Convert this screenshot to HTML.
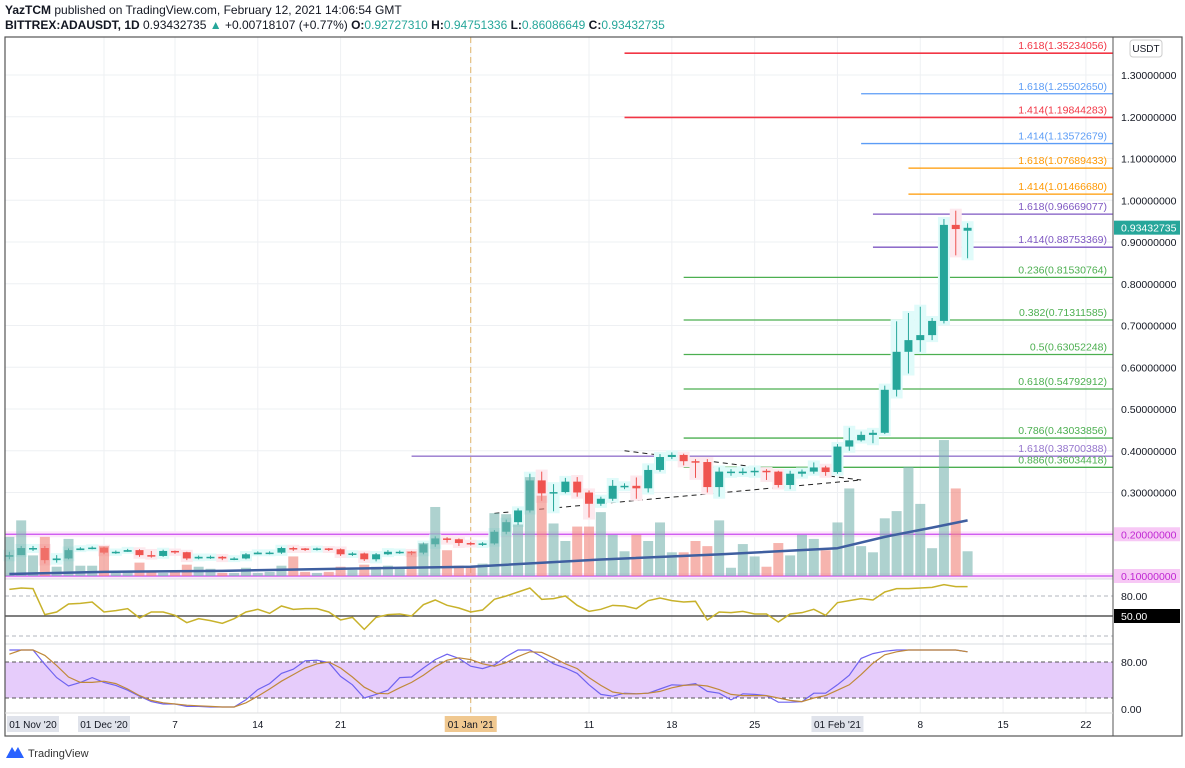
<!DOCTYPE html>
<html><head><meta charset="utf-8"><style>
html,body{margin:0;padding:0;background:#fff;width:1185px;height:768px;overflow:hidden}
svg{display:block;font-family:"Liberation Sans",sans-serif}
</style></head><body>
<svg id="c" width="1185" height="768" xmlns="http://www.w3.org/2000/svg">
<text x="5" y="14" font-size="12" fill="#131722"><tspan font-weight="bold">YazTCM</tspan> published on TradingView.com, February 12, 2021 14:06:54 GMT</text>
<text x="5" y="29" font-size="12" fill="#131722"><tspan font-weight="bold">BITTREX:ADAUSDT, 1D</tspan> 0.93432735 <tspan fill="#26a69a">▲</tspan> +0.00718107 (+0.77%) <tspan font-weight="bold">O:</tspan><tspan fill="#26a69a">0.92727310</tspan> <tspan font-weight="bold">H:</tspan><tspan fill="#26a69a">0.94751336</tspan> <tspan font-weight="bold">L:</tspan><tspan fill="#26a69a">0.86086649</tspan> <tspan font-weight="bold">C:</tspan><tspan fill="#26a69a">0.93432735</tspan></text>
<g id="grid"></g><g id="bands"></g><g id="fibs"></g><g id="candles"></g><g id="vols"></g><g id="ind"></g><g id="axes"></g>
<g><path d="M6 758 L12 747 L15 752 L18 747 L24 758 Z" fill="#2962ff"/><text x="28" y="757" font-size="11" fill="#333">TradingView</text></g>
</svg>
<script>
const days=[];for(let d=-8;d<=73;d++)days.push(d);
const opens=[.146,.150,.167,.167,.138,.142,.162,.166,.168,.156,.158,.162,.150,.148,.160,.157,.142,.146,.146,.142,.142,.152,.156,.156,.167,.166,.164,.166,.164,.152,.154,.140,.152,.158,.158,.156,.176,.190,.188,.179,.178,.178,.206,.229,.257,.329,.298,.301,.326,.300,.273,.285,.316,.316,.310,.354,.385,.390,.375,.373,.313,.350,.350,.350,.352,.350,.318,.345,.350,.360,.349,.410,.425,.438,.443,.546,.637,.665,.677,.711,.941,.927];
const closes=[.150,.167,.167,.138,.142,.162,.166,.168,.156,.158,.162,.150,.148,.160,.157,.142,.146,.146,.142,.142,.152,.156,.156,.167,.166,.164,.166,.164,.152,.154,.140,.152,.158,.158,.156,.176,.190,.188,.179,.178,.178,.206,.229,.257,.329,.298,.301,.326,.300,.273,.285,.316,.316,.310,.354,.385,.390,.375,.373,.313,.350,.350,.350,.352,.350,.318,.345,.350,.360,.349,.410,.425,.438,.443,.546,.637,.665,.677,.711,.941,.931,.934];
const highs=[.158,.172,.172,.172,.150,.166,.169,.171,.170,.161,.165,.164,.160,.163,.161,.158,.149,.149,.148,.145,.155,.159,.159,.170,.170,.167,.168,.167,.166,.157,.156,.155,.162,.161,.160,.180,.195,.193,.190,.182,.181,.210,.235,.262,.345,.350,.320,.335,.337,.305,.290,.330,.322,.336,.365,.392,.396,.393,.380,.380,.360,.356,.358,.360,.356,.352,.352,.355,.372,.364,.416,.455,.446,.450,.556,.710,.730,.745,.718,.955,.975,.945];
const lows=[.140,.150,.160,.130,.132,.140,.162,.164,.152,.153,.158,.146,.144,.146,.153,.138,.140,.141,.138,.138,.140,.152,.152,.153,.160,.160,.161,.160,.148,.148,.136,.135,.150,.153,.150,.152,.170,.180,.172,.173,.172,.175,.200,.222,.252,.280,.255,.298,.290,.240,.268,.280,.308,.285,.300,.350,.380,.365,.335,.300,.290,.340,.342,.340,.330,.312,.308,.338,.345,.340,.345,.400,.422,.418,.440,.530,.585,.637,.665,.705,.868,.861];
const volumes=[38,54,20,38,9,36,10,10,29,3,4,13,4,3,4,11,9,7,3,3,8,3,4,10,19,4,3,4,9,6,11,9,10,8,24,32,67,25,10,9,12,61,60,50,96,78,51,34,48,48,62,40,24,40,34,52,23,23,34,29,54,8,31,19,9,32,20,40,36,25,52,85,29,23,56,63,106,70,27,132,85,24];
const maDays=[-8,0,10,20,31,42,52,62,66,70,73];
const maVals=[2,4,5,7,9,16,21,27,38,47,54];
const rsi=[90,92,91,52,56,68,69,71,56,58,61,47,56,56,51,40,46,43,39,46,56,60,54,65,60,61,61,56,44,48,30,48,52,53,50,67,74,66,62,56,59,75,80,86,92,75,76,80,66,57,60,66,65,61,73,77,73,71,72,44,56,55,57,53,53,41,53,55,60,51,70,73,76,74,86,91,91,92,93,97,94,94];
const stochK=[100,100,100,76,54,40,46,54,46,41,33,23,14,10,10,6,6,5,5,5,17,34,44,61,68,82,83,79,56,42,20,26,33,54,55,70,84,93,86,73,69,75,89,100,100,89,77,70,61,42,26,23,28,27,28,35,42,41,44,31,28,17,27,26,24,13,13,14,28,28,42,58,86,94,98,100,100,100,100,100,100,97];
const stochD=[93,100,100,91,74,55,46,46,48,44,35,24,16,12,10,8,7,6,5,5,12,23,35,48,59,70,77,80,70,55,38,28,27,37,46,58,72,83,87,84,77,73,79,89,97,96,87,77,69,54,41,30,27,27,28,31,37,41,42,40,34,26,24,24,24,20,16,14,20,24,33,42,59,78,92,97,100,100,100,100,100,97];
const priceTicks=[1.3,1.2,1.1,1.0,0.9,0.8,0.7,0.6,0.5,0.4,0.3];
const fibLevels=[1.35234056,1.25502650,1.19844283,1.13572679,1.07689433,1.01466680,0.96669077,0.88753369,0.81530764,0.71311585,0.63052248,0.54792912,0.43033856,0.38700388,0.36034418];
const fibRatios=["1.618","1.618","1.414","1.414","1.618","1.414","1.618","1.414","0.236","0.382","0.5","0.618","0.786","1.618","0.886"];
const fibStartDays=[44,64,44,64,68,68,65,65,49,49,49,49,49,26,49];
const fibColors=["#f23645","#5b9cf6","#f23645","#5b9cf6","#ff9800","#ff9800","#7e57c2","#7e57c2","#4caf50","#4caf50","#4caf50","#4caf50","#4caf50","#9575cd","#4caf50"];
const timeLabels=["01 Dec '20","7","14","21","01 Jan '21","11","18","25","01 Feb '21","8","15","22"];
const timeDays=[0,6,13,20,31,41,48,55,62,69,76,83];

const NS="http://www.w3.org/2000/svg";
function el(tag,attrs,parent){const e=document.createElementNS(NS,tag);for(const k in attrs)e.setAttribute(k,attrs[k]);(parent||document.getElementById('c')).appendChild(e);return e;}
const xS=d=>104+d*11.83;
const yP=p=>75+(1.3-p)*417.5;
const yV=v=>576-v*1.03;
const yR=v=>616-(v-50)*0.667;
const yS=v=>710-v*0.6;
const AX=1113;
const G=id=>document.getElementById(id);

const grid=G('grid');
timeDays.forEach(d=>{const x=xS(d);if(x<AX){const l=el('line',{x1:x,y1:37,x2:x,y2:713,stroke:'#eef0f3','stroke-width':1},grid);}});
priceTicks.forEach(p=>{const l=el('line',{x1:5,y1:yP(p),x2:AX,y2:yP(p),stroke:'#eef0f3'},grid);});
const jan=el('line',{x1:xS(31),y1:37,x2:xS(31),y2:713,stroke:'#e0b46a','stroke-dasharray':'6,4','stroke-width':1},grid);


const bands=G('bands');
[0.2,0.1].forEach(p=>{el('rect',{x:5,y:yP(p)-3,width:AX-5,height:6,fill:'#fde7fb'},bands);const l=el('line',{x1:5,y1:yP(p),x2:AX,y2:yP(p),stroke:'#c94bf0','stroke-width':1.3},bands);});

const fibs=G('fibs');
fibLevels.forEach((p,i)=>{const y=yP(p);const l=el('line',{x1:xS(fibStartDays[i]),y1:y,x2:AX,y2:y,stroke:fibColors[i],'stroke-width':fibColors[i]==='#f23645'?1.6:1.3},fibs);

const t=el('text',{x:1107,y:y-4,'font-size':10.5,fill:fibColors[i],'text-anchor':'end'},fibs);t.textContent=fibRatios[i]+'('+p.toFixed(8)+')';
});
const tri1=el('line',{x1:xS(44),y1:yP(0.40),x2:xS(64),y2:yP(0.33),stroke:'#222','stroke-dasharray':'5,4'},fibs);

const tri2=el('line',{x1:xS(33),y1:yP(0.25),x2:xS(64),y2:yP(0.33),stroke:'#222','stroke-dasharray':'5,4'},fibs);


const cg=G('candles');
days.forEach((d,i)=>{const o=opens[i]??closes[i],c=closes[i],x=xS(d);const up=c>=o;const col=up?'#26a69a':'#ef5350';
el('rect',{x:x-6,y:yP(Math.max(o,c,highs[i]))-2,width:12,height:yP(lows[i])-yP(highs[i])+4,fill:up?'#e0fbfa':'#fde9ee'},cg);
const w=el('line',{x1:x,y1:yP(highs[i]),x2:x,y2:yP(lows[i]),stroke:col,'stroke-width':1},cg);
const top=yP(Math.max(o,c)),h=Math.max(1.5,yP(Math.min(o,c))-top);
const b=el('rect',{x:x-4,y:top,width:8,height:h,fill:col},cg);});

const vg=G('vols');
days.forEach((d,i)=>{const o=opens[i]??closes[i];const up=closes[i]>=o;const x=xS(d);
const r=el('rect',{x:x-5,y:yV(volumes[i]),width:10,height:576-yV(volumes[i]),fill:up?'rgba(120,180,175,0.6)':'rgba(240,130,120,0.6)'},vg);
});
let mp='';maDays.forEach((d,i)=>{mp+=(i?'L':'M')+xS(d)+' '+yV(maVals[i]);});
const ma=el('path',{d:mp,fill:'none',stroke:'#3f5fa0','stroke-width':2.5,'stroke-linejoin':'round'},vg);


const ig=G('ind');
el('line',{x1:5,y1:579,x2:AX,y2:579,stroke:'#d9dce2'},ig);
el('line',{x1:5,y1:644,x2:AX,y2:644,stroke:'#d9dce2'},ig);
[80,20].forEach(v=>el('line',{x1:5,y1:yR(v),x2:AX,y2:yR(v),stroke:'#b2b5be','stroke-dasharray':'4,3'},ig));
const mid=el('line',{x1:5,y1:yR(50),x2:AX,y2:yR(50),stroke:'#333','stroke-width':1.2},ig);
let rp='';days.forEach((d,i)=>{rp+=(i?'L':'M')+xS(d)+' '+yR(rsi[i]);});
const rl=el('path',{d:rp,fill:'none',stroke:'#c8b22b','stroke-width':1.5},ig);
const band=el('rect',{x:5,y:yS(80),width:AX-5,height:yS(20)-yS(80),fill:'#e6ccfb'},ig);
[80,20].forEach(v=>el('line',{x1:5,y1:yS(v),x2:AX,y2:yS(v),stroke:'#555','stroke-dasharray':'4,3'},ig));
let kp='',dp='';days.forEach((d,i)=>{kp+=(i?'L':'M')+xS(d)+' '+yS(stochK[i]);dp+=(i?'L':'M')+xS(d)+' '+yS(stochD[i]);});
const kl=el('path',{d:kp,fill:'none',stroke:'#6f63f0','stroke-width':1.2},ig);
const dl=el('path',{d:dp,fill:'none',stroke:'#c0893a','stroke-width':1.2},ig);

const ag=G('axes');
el('rect',{x:5,y:37,width:1177,height:699,fill:'none',stroke:'#555','stroke-width':1.2},ag);
el('line',{x1:AX,y1:37,x2:AX,y2:736,stroke:'#555'},ag);
el('line',{x1:5,y1:713,x2:AX,y2:713,stroke:'#ddd'},ag);
const usdt=el('rect',{x:1130,y:40,width:32,height:17,rx:3,fill:'#fff',stroke:'#ccc'},ag);
const ut=el('text',{x:1146,y:52,'font-size':10,'text-anchor':'middle',fill:'#131722'},ag);ut.textContent='USDT';
priceTicks.forEach(p=>{const t=el('text',{x:1121,y:yP(p)+4,'font-size':10.5,fill:'#131722'},ag);t.textContent=p.toFixed(8);});
function box(y,txt,bg,fg,name){const r=el('rect',{x:1114,y:y-7,width:66,height:14,fill:bg},ag);const t=el('text',{x:1121,y:y+4,'font-size':10.5,fill:fg},ag);t.textContent=txt;}
box(yP(0.93432735),'0.93432735','#26a69a','#fff','last-price-label');
box(yP(0.2),'0.20000000','#f7c8f5','#c026d3','level-label-0.2');
box(yP(0.1),'0.10000000','#f7c8f5','#c026d3','level-label-0.1');
const r80=el('text',{x:1121,y:yR(80)+4,'font-size':10.5,fill:'#131722'},ag);r80.textContent='80.00';
box(yR(50),'50.00','#000','#fff','rsi-50-label');
const s80=el('text',{x:1121,y:yS(80)+4,'font-size':10.5,fill:'#131722'},ag);s80.textContent='80.00';
const s0=el('text',{x:1121,y:yS(0)+3,'font-size':10.5,fill:'#131722'},ag);s0.textContent='0.00';
const nb=el('rect',{x:7,y:716,width:52,height:16,fill:'#e0e3eb'},ag);
const nt=el('text',{x:33,y:728,'font-size':10,fill:'#131722','text-anchor':'middle'},ag);nt.textContent="01 Nov '20";
timeLabels.forEach((s,i)=>{const x=xS(timeDays[i]);if(x>AX)return;
if(s.startsWith('01')){const b=el('rect',{x:x-26,y:716,width:52,height:16,fill:s.includes('Jan')?'#f0c890':'#e0e3eb'},ag);}
const t=el('text',{x:x,y:728,'font-size':10,fill:'#131722','text-anchor':'middle'},ag);t.textContent=s;});
</script>
</body></html>
